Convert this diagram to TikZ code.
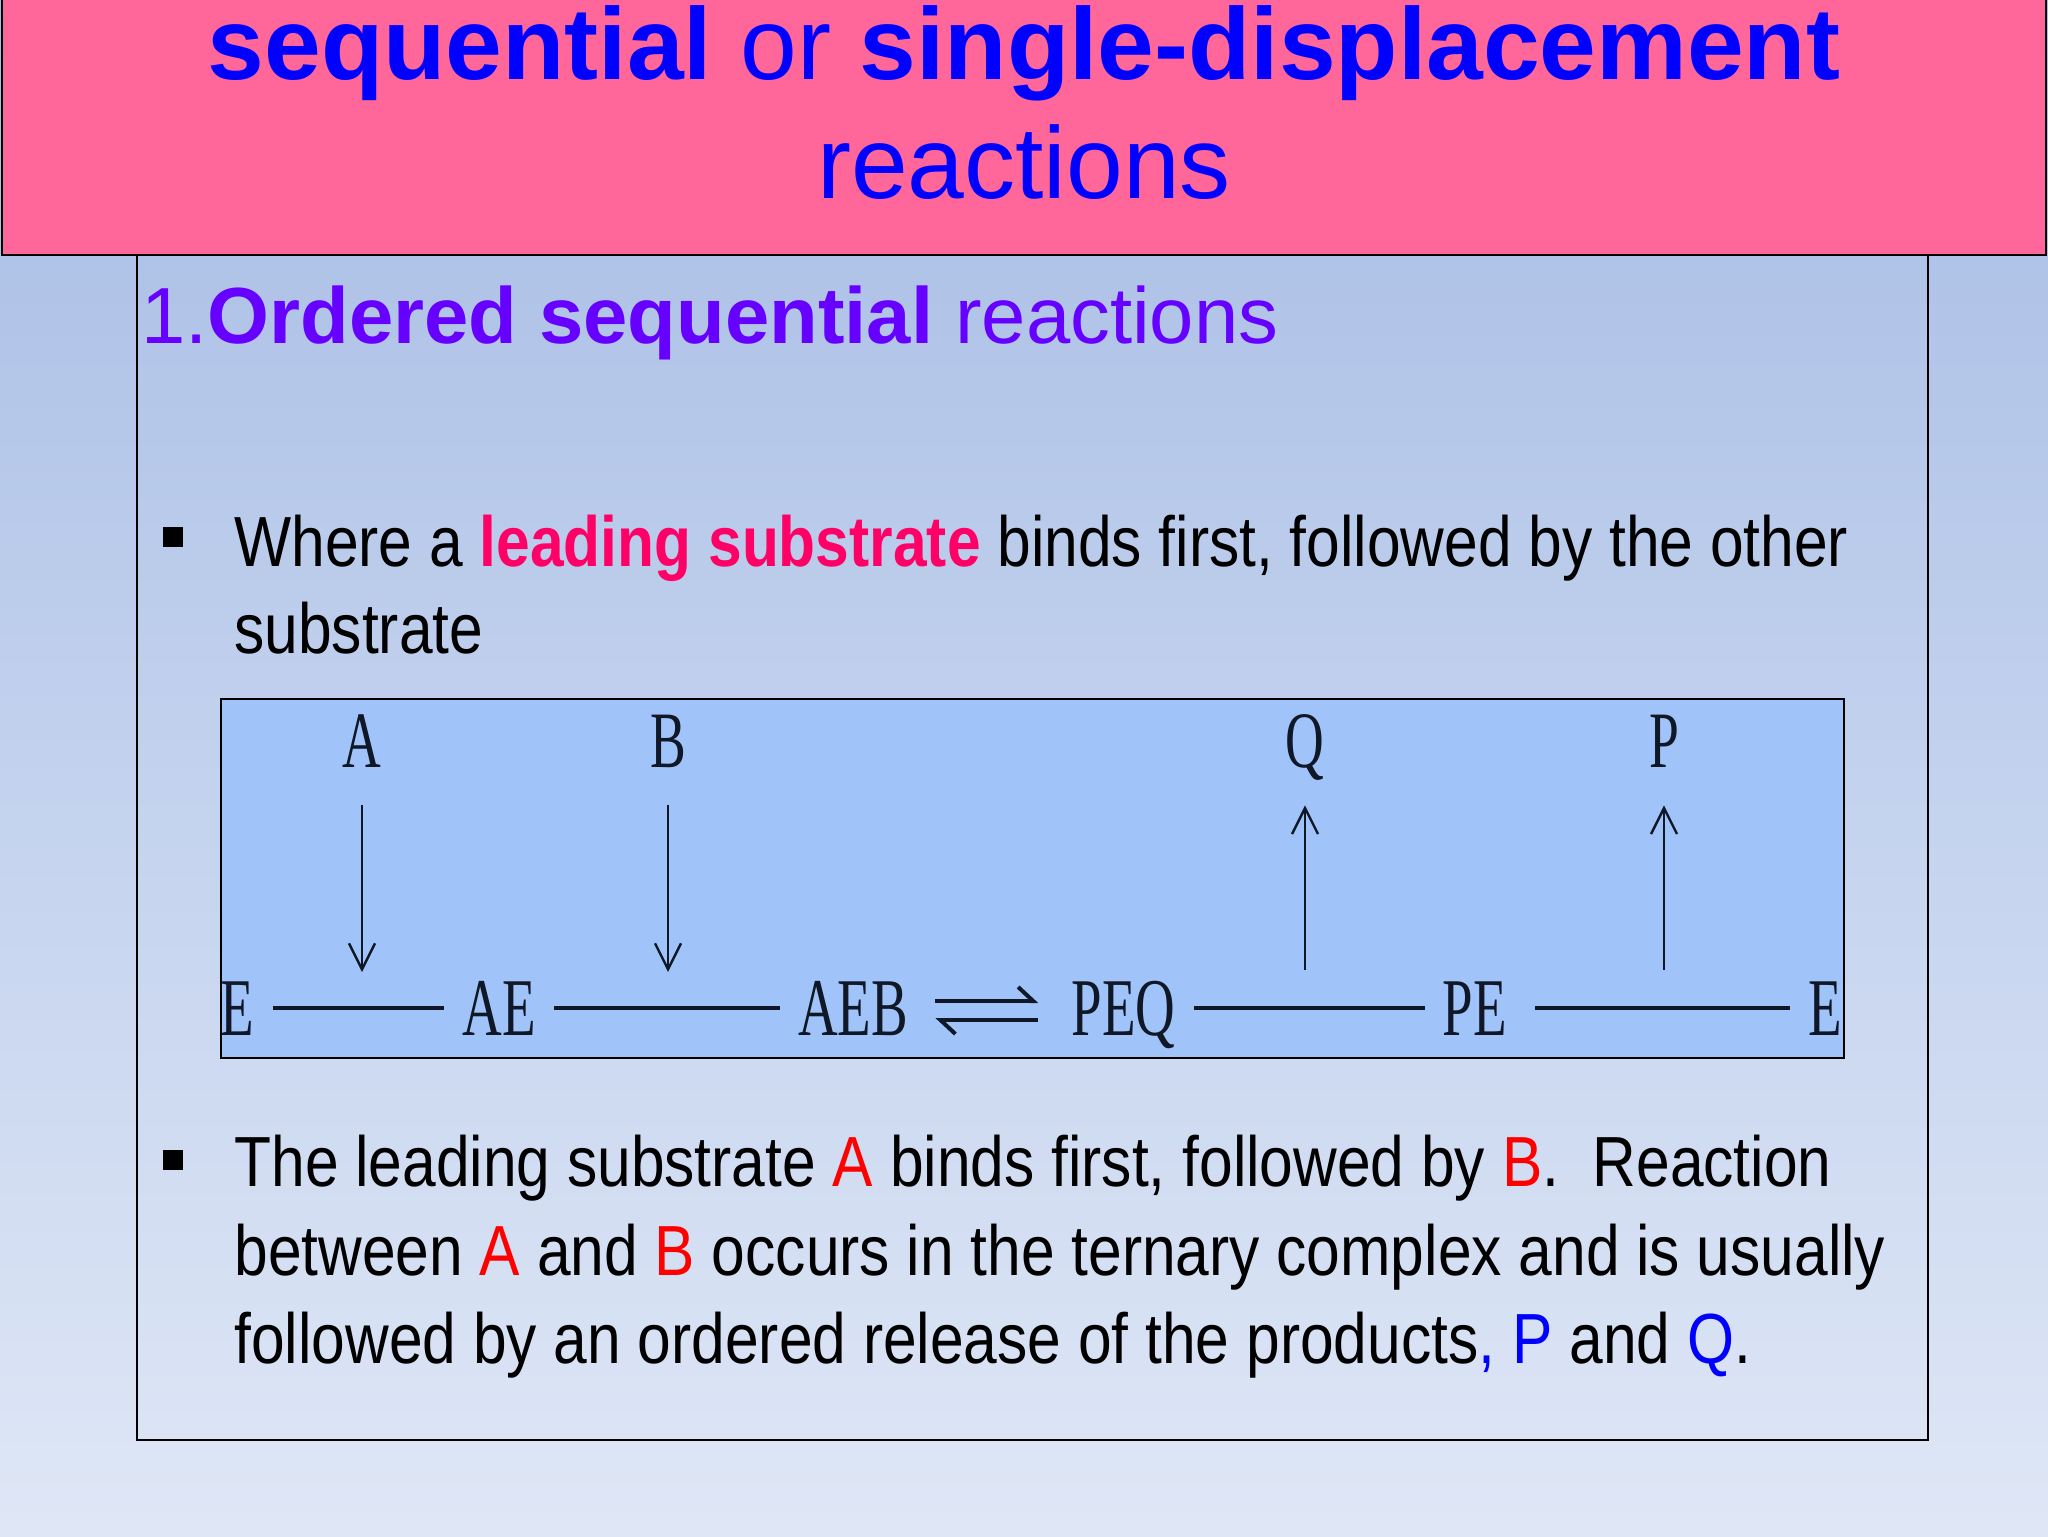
\documentclass[tikz,border=0pt]{standalone}
\usepackage{fontspec}
\setmainfont{Liberation Sans}
\newfontfamily\narrowfont[FakeStretch=0.852]{Liberation Sans}
\newfontfamily\dserif[FakeStretch=0.67]{Liberation Serif}
\usetikzlibrary{arrows.meta}
\definecolor{bgtop}{HTML}{A6BCE5}
\definecolor{bgbot}{HTML}{DFE7F6}
\definecolor{titlepink}{HTML}{FF6699}
\definecolor{titleblue}{HTML}{0000FF}
\definecolor{subpurple}{HTML}{6600FF}
\definecolor{leadpink}{HTML}{FF0066}
\definecolor{keyred}{HTML}{FF0000}
\definecolor{keyblue}{HTML}{0000FF}
\definecolor{schemefill}{HTML}{A0C4FA}
\definecolor{ink}{HTML}{101828}
\frenchspacing
\tikzset{
  titletext/.style={font=\fontsize{51}{61}\selectfont, text=titleblue, inner sep=0pt, anchor=base},
  subtext/.style={font=\fontsize{39.8}{47}\selectfont, text=subpurple, inner sep=0pt, anchor=base west},
  bodytext/.style={font=\narrowfont\fontsize{35.5}{43}\selectfont, text=black, inner sep=0pt, anchor=base west},
  bulletsq/.style={fill=black, inner sep=0pt, minimum size=10pt},
  species/.style={font=\dserif\fontsize{41}{49}\selectfont, text=ink, inner xsep=9pt, inner ysep=0pt, text height=27.5pt, text depth=0pt, anchor=base},
  reagent/.style={font=\dserif\fontsize{40}{48}\selectfont, text=ink, inner sep=0pt, text height=27pt, text depth=0pt, anchor=base},
  bondline/.style={line width=2pt, draw=ink},
  bindarrow/.style={line width=1.2pt, draw=ink, -{Straight Barb[length=13pt,width=13pt]}},
  eqarrow/.style={line width=2pt, draw=ink},
}
\begin{document}
\begin{tikzpicture}[x=0.5pt,y=-0.5pt]
\useasboundingbox (0,0) rectangle (2048,1536);
\shade[top color=bgtop, bottom color=bgbot] (0,0) rectangle (2048,1536);
% content frame
\draw[line width=1pt, draw=black] (137,240) rectangle (1928,1440);
% title band
\draw[fill=titlepink, draw=black, line width=1.3pt] (2,-10) rectangle (2046,255);
\node[titletext] (title1) at (1024,80) {{\bfseries sequential} or {\bfseries single-displacement}};
\node[titletext] (title2) at (1024,198) {reactions};
% subtitle
\node[subtext] (sub) at (141,343) {1.{\bfseries Ordered sequential} reactions};
% bullet 1
\node[bulletsq] (sq1) at (173,537) {};
\node[bodytext] (b1l1) at (234,566) {Where a {\bfseries\color{leadpink}leading substrate} binds first, followed by the other};
\node[bodytext] (b1l2) at (234,653) {substrate};
% scheme box
\draw[fill=schemefill, draw=black, line width=1.2pt] (221,699) rectangle (1844,1058);
\node[reagent] (A) at (362,767) {A};
\node[reagent] (B) at (668,767) {B};
\node[reagent] (Q) at (1305,767) {Q};
\node[reagent] (P) at (1664,767) {P};
\node[species] (E1) at (237.5,1035) {E};
\node[species] (AE) at (499,1035) {AE};
\node[species] (AEB) at (853,1035) {AEB};
\node[species] (PEQ) at (1123.5,1035) {PEQ};
\node[species] (PE) at (1475,1035) {PE};
\node[species] (E2) at (1825.5,1035) {E};
\coordinate (tipA) at (362,972);
\coordinate (tipB) at (668,972);
\coordinate (footQ) at (1305,970);
\coordinate (footP) at (1664,970);
\draw[bondline] (E1.east) -- (AE.west);
\draw[bondline] (AE.east) -- (AEB.west);
\draw[bondline] (PEQ.east) -- (PE.west);
\draw[bondline] ([xshift=5pt]PE.east) -- (E2.west);
\draw[bindarrow, shorten <=19pt] (A.south) -- (tipA);
\draw[bindarrow, shorten <=19pt] (B.south) -- (tipB);
\draw[bindarrow, shorten >=19pt] (footQ) -- (Q.south);
\draw[bindarrow, shorten >=19pt] (footP) -- (P.south);
\draw[eqarrow, -{Straight Barb[left, length=7.5pt, width=14pt]}, shorten <=4.5pt, shorten >=7.5pt]
  ([yshift=3.25pt]AEB.east) -- ([yshift=3.25pt]PEQ.west);
\draw[eqarrow, -{Straight Barb[left, length=7.5pt, width=14pt]}, shorten <=7.5pt, shorten >=4.5pt]
  ([yshift=-6.25pt]PEQ.west) -- ([yshift=-6.25pt]AEB.east);
% bullet 2
\node[bulletsq] (sq2) at (173,1160) {};
\node[bodytext] (b2l1) at (234,1186) {The leading substrate {\color{keyred}A} binds first, followed by {\color{keyred}B}.~ Reaction};
\node[bodytext] (b2l2) at (234,1275) {between {\color{keyred}A} and {\color{keyred}B} occurs in the ternary complex and is usually};
\node[bodytext] (b2l3) at (234,1363) {followed by an ordered release of the products{\color{keyblue}, P} and {\color{keyblue}Q}.};
\end{tikzpicture}
\end{document}
